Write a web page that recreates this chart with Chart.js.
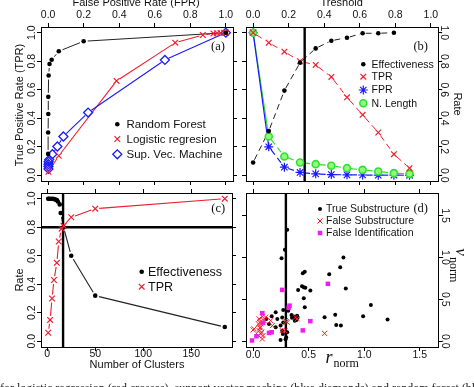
<!DOCTYPE html>
<html>
<head>
<meta charset="utf-8">
<script src="https://cdn.jsdelivr.net/npm/chart.js@4.4.0/dist/chart.umd.min.js"></script>
<style>
  html, body { margin: 0; padding: 0; background: #fff; width: 474px; height: 387px; overflow: hidden; position: relative; }
  canvas { position: absolute; left: 0; top: 0; }
  #cap { position: absolute; left: 0; top: 381px; font: 12px "Liberation Serif", serif; white-space: nowrap; color: #222; }
</style>
</head>
<body>
<canvas id="ca" width="474" height="387"></canvas>
<canvas id="cb" width="474" height="387"></canvas>
<canvas id="cc" width="474" height="387"></canvas>
<canvas id="cd" width="474" height="387"></canvas>
<div id="cap">for logistic regression (red crosses), support vector machine (blue diamonds) and random forest (black dots)</div>
<script>
// ---- (a) ROC curves
const rfFpr  = [1.0, 0.2, 0.06, 0.02, 0.008, 0.003, 0.001, 0.001, 0.0, 0.0];
const rfTpr  = [1.0, 0.94, 0.87, 0.81, 0.78, 0.70, 0.55, 0.43, 0.30, 0.15];
const lrFpr  = [1.0, 0.99, 0.97, 0.95, 0.93, 0.87, 0.715, 0.385, 0.06, 0.002];
const lrTpr  = [1.0, 1.0, 0.998, 0.996, 0.995, 0.984, 0.93, 0.662, 0.137, 0.025];
const svmFpr = [1.0, 0.657, 0.225, 0.086, 0.052, 0.024, 0.006, 0.003, 0.002, 0.002, 0.002];
const svmTpr = [1.0, 0.809, 0.44, 0.272, 0.202, 0.148, 0.11, 0.095, 0.078, 0.062, 0.045];

// ---- (b) rates against threshold
const thresholds = [0, 0.088, 0.176, 0.264, 0.352, 0.44, 0.528, 0.616, 0.704, 0.792, 0.88];
const effB = [0.09, 0.31, 0.594, 0.79, 0.89, 0.944, 0.965, 0.996, 0.996, 1.0];
const tprB = [1.0, 0.93, 0.867, 0.80, 0.774, 0.69, 0.547, 0.424, 0.30, 0.148, 0.05];
const fprB = [1.0, 0.20, 0.057, 0.02, 0.01, 0.005, 0.003, 0.002, 0.001, 0.001, 0.0];
const lenB = [1.0, 0.272, 0.132, 0.09, 0.078, 0.067, 0.05, 0.038, 0.027, 0.015, 0.01];
const thresholdCut = 0.29;

// ---- (c) rates against number of clusters
const clustersEff = [1, 2, 4, 6, 8, 10, 11, 13, 14, 17, 25, 50, 185];
const effC = [1.0, 1.0, 1.0, 1.0, 0.995, 0.99, 0.98, 0.96, 0.90, 0.80, 0.60, 0.32, 0.10];
const clustersTpr = [1, 3, 5, 7, 10, 12, 15, 17, 25, 50, 185];
const tprC = [0.06, 0.15, 0.30, 0.43, 0.55, 0.70, 0.79, 0.81, 0.87, 0.93, 1.0];
const clusterCut = 16.5;
const rateCut = 0.8;

// ---- (d) r_norm / v_norm scatter
const rTrue = [0.307, 0.286, 0.256, 0.813, 0.784, 0.465, 0.447, 0.685, 0.834, 0.44, 0.456, 0.47, 0.405, 0.515, 0.456, 0.465,
  1.06, 0.99, 1.21, 0.739, 0.748, 0.79, 0.643, 0.167, 0.203, 0.218, 0.262, 0.271, 0.316, 0.346, 0.366, 0.381, 0.396, 0.375,
  0.247, 0.262, 0.268, 0.247, 0.298, 0.203, 0.143, 0.271, 0.119, 0.307, 0.292, 0.40, 0.39, 0.35];
const vTrue = [1.33, 1.09, 0.99, 1.0, 0.883, 0.83, 0.81, 0.80, 0.63, 0.656, 0.645, 0.637, 0.613, 0.605, 0.513, 0.406,
  0.434, 0.30, 0.26, 0.315, 0.195, 0.187, 0.287, 0.30, 0.345, 0.265, 0.285, 0.225, 0.365, 0.314, 0.295, 0.266, 0.306, 0.246,
  0.187, 0.127, 0.088, 0.016, 0.048, 0.167, 0.207, 0.374, 0.265, 0.107, 0.023, 0.28, 0.255, 0.28];
const rFalse = [0.0, 0.054, 0.069, 0.06, 0.077, 0.089, 0.048, 0.083, 0.098, 0.113, 0.158, 0.173, 0.262, 0.292, 0.307, 0.381,
  0.396, 0.643, 0.083, 0.048, 0.068, 0.054, 0.068, 0.009, 0.286, 0.298, 0.065];
const vFalse = [0.136, 0.267, 0.207, 0.16, 0.108, 0.068, 0.068, 0.028, 0.247, 0.287, 0.247, 0.187, 0.128, 0.247, 0.227, 0.287,
  0.267, 0.095, 0.294, 0.207, 0.168, 0.128, 0.088, 0.148, 0.127, 0.235, 0.23];
const rFid = [0.262, 0.673, 0.328, 0.083, 0.515, 0.447, 0.167, 0.143, 0.03, -0.01, 0.09, 0.32];
const vFid = [0.613, 0.685, 0.425, 0.335, 0.24, 0.13, 0.108, 0.1, 0.06, 0.01, 0.22, 0.40];
const rNormCut = 0.295;

// ---- tick labels
const unitTicks = [0, 0.2, 0.4, 0.6, 0.8, 1.0];
const clusterTicks = [0, 50, 100, 150];
const normTicks = [0, 0.5, 1.0, 1.5];

const SANS = "'Liberation Sans', Arial, sans-serif";
const SERIF = "'Liberation Serif', 'Times New Roman', serif";
const RED = '#f01e2c';
const BLUE = '#1a1aff';
const GREEN = '#33dd33';
const MAGENTA = '#f01cf0';

const pts = (xs, ys) => ys.map((y, i) => ({ x: xs[i], y: y }));
const f1 = v => Number(v).toFixed(1);
const f0 = v => String(v);

function mkScale(axis, position, min, max, tickVals) {
  return {
    type: 'linear', axis: axis, position: position, min: min, max: max,
    afterBuildTicks: s => { s.ticks = tickVals.map(v => ({ value: v })); },
    afterFit: s => { if (s.isHorizontal()) s.height = 10; else s.width = 10; },
    grid: { drawOnChartArea: false, drawTicks: true, tickLength: 4, color: '#000', lineWidth: 1 },
    border: { display: true, color: '#000', width: 1 },
    ticks: { display: false, autoSkip: false }
  };
}

function baseOptions(box, scales) {
  return {
    responsive: false, animation: false, devicePixelRatio: 1, events: [],
    layout: { autoPadding: false, padding: { left: box.l - 10, top: box.t - 10, right: 474 - box.r - 10, bottom: 387 - box.b - 10 } },
    plugins: { legend: { display: false }, tooltip: { enabled: false } },
    scales: scales
  };
}

// lines between points with a small gap round each point (R type "b")
const gapLines = {
  id: 'gapLines',
  beforeDatasetsDraw(chart) {
    const ctx = chart.ctx, a = chart.chartArea;
    ctx.save();
    ctx.beginPath();
    ctx.rect(a.left, a.top, a.right - a.left, a.bottom - a.top);
    ctx.clip();
    chart.data.datasets.forEach((ds, i) => {
      const g = ds.gapLine;
      if (!g) return;
      const el = chart.getDatasetMeta(i).data;
      ctx.strokeStyle = g.color;
      ctx.lineWidth = g.width;
      for (let k = 0; k < el.length - 1; k++) {
        const p = el[k], q = el[k + 1];
        const dx = q.x - p.x, dy = q.y - p.y, len = Math.hypot(dx, dy);
        const gap = (g.noGapFirst && k === 0) ? 0 : g.gap;
        if (len <= 2 * gap + 1) continue;
        const ux = dx / len, uy = dy / len;
        ctx.setLineDash(g.dash && !(g.solidFirst && k === 0) ? g.dash : []);
        ctx.beginPath();
        ctx.moveTo(p.x + ux * gap, p.y + uy * gap);
        ctx.lineTo(q.x - ux * gap, q.y - uy * gap);
        ctx.stroke();
      }
    });
    ctx.restore();
  }
};

function symbol(ctx, s, x, y) {
  ctx.save();
  ctx.fillStyle = s.fill || 'rgba(0,0,0,0)';
  ctx.strokeStyle = s.stroke || s.fill || '#000';
  ctx.lineWidth = s.bw || 0;
  Chart.helpers.drawPoint(ctx, { pointStyle: s.style, radius: s.r, borderWidth: s.bw || 0, rotation: 0 }, x, y);
  ctx.restore();
}

// tick labels, titles, panel tags and legends
function deco(cfg) {
  return {
    id: 'deco',
    afterDraw(chart) {
      const ctx = chart.ctx;
      ctx.save();
      ctx.fillStyle = '#111';
      ctx.textBaseline = 'middle';
      ctx.textAlign = 'center';
      ctx.font = '10.5px ' + SANS;
      if (cfg.xLabels) {
        const sc = chart.scales[cfg.xLabels.axis];
        cfg.xLabels.vals.forEach(v => ctx.fillText(cfg.xLabels.fmt(v), sc.getPixelForValue(v), cfg.xLabels.y));
      }
      if (cfg.yLabels) {
        const sc = chart.scales[cfg.yLabels.axis];
        cfg.yLabels.vals.forEach(v => {
          ctx.save();
          ctx.translate(cfg.yLabels.x, sc.getPixelForValue(v));
          ctx.rotate(cfg.yLabels.rot);
          ctx.fillText(f1(v), 0, 0);
          ctx.restore();
        });
      }
      (cfg.texts || []).forEach(t => {
        ctx.save();
        ctx.font = (t.italic ? 'italic ' : '') + t.size + 'px ' + (t.serif ? SERIF : SANS);
        ctx.textAlign = t.align || 'center';
        ctx.textBaseline = t.base || 'middle';
        ctx.translate(t.x, t.y);
        if (t.rot) ctx.rotate(t.rot);
        ctx.fillText(t.t, 0, 0);
        ctx.restore();
      });
      (cfg.legend || []).forEach(e => {
        symbol(ctx, e.sym, e.x, e.y);
        ctx.fillStyle = '#111';
        ctx.font = e.size + 'px ' + SANS;
        ctx.textAlign = 'left';
        ctx.textBaseline = 'middle';
        ctx.fillText(e.t, e.tx, e.y + 0.5);
      });
      ctx.restore();
    }
  };
}

const symRF = { style: 'circle', r: 2.3, fill: '#000' };
const symLR = { style: 'crossRot', r: 4, stroke: RED, bw: 1.2 };
const symSVM = { style: 'rectRot', r: 4.5, stroke: BLUE, bw: 1.3 };
const symFPR = { style: 'star', r: 4.5, stroke: BLUE, bw: 1.2 };
const symLen = { style: 'circle', r: 3.5, fill: '#8dff7a', stroke: GREEN, bw: 1.6 };
const symFid = { style: 'rect', r: 3.2, fill: MAGENTA, stroke: MAGENTA, bw: 0 };
const symFalse = { style: 'crossRot', r: 3.6, stroke: RED, bw: 1 };
const symTrue = { style: 'circle', r: 2, fill: '#000' };

function ds(data, s, extra) {
  return Object.assign({
    data: data, pointStyle: s.style, pointRadius: s.r,
    backgroundColor: s.fill || 'rgba(0,0,0,0)', borderColor: s.stroke || s.fill, borderWidth: s.bw || 0
  }, extra || {});
}
function refLine(data) {
  return { data: data, showLine: true, borderColor: '#000', borderWidth: 2.4, pointRadius: 0 };
}

// ---------- panel (a)
const boxA = { l: 41, t: 27, r: 233, b: 181 };
new Chart(document.getElementById('ca'), {
  type: 'scatter',
  data: { datasets: [
    ds(pts(rfFpr, rfTpr), symRF, { gapLine: { color: '#222', width: 1, gap: 4 } }),
    ds(pts(lrFpr, lrTpr), symLR, { gapLine: { color: RED, width: 1.1, gap: 3.5 } }),
    ds(pts(svmFpr, svmTpr), symSVM, { gapLine: { color: BLUE, width: 1.1, gap: 4 } })
  ] },
  options: baseOptions(boxA, {
    x: mkScale('x', 'top', -0.04, 1.04, unitTicks),
    x2: mkScale('x', 'bottom', -0.04, 1.04, unitTicks),
    y: mkScale('y', 'left', -0.04, 1.04, unitTicks),
    y2: mkScale('y', 'right', -0.04, 1.04, unitTicks)
  }),
  plugins: [gapLines, deco({
    xLabels: { axis: 'x', y: 15.5, vals: unitTicks, fmt: f1 },
    yLabels: { axis: 'y', x: 32, rot: -Math.PI / 2, vals: unitTicks },
    texts: [
      { t: 'False Positive Rate (FPR)', x: 136, y: 3, size: 11 },
      { t: 'True Positive Rate (TPR)', x: 20, y: 105, size: 11, rot: -Math.PI / 2 },
      { t: '(a)', x: 218, y: 47, size: 12.5, serif: true }
    ],
    legend: [
      { x: 117.3, y: 124.3, tx: 126.5, t: 'Random Forest', size: 11.5, sym: symRF },
      { x: 117.3, y: 139, tx: 126.5, t: 'Logistic regresion', size: 11.5, sym: symLR },
      { x: 117.3, y: 154.3, tx: 126.5, t: 'Sup. Vec. Machine', size: 11.5, sym: symSVM }
    ]
  })]
});

// ---------- panel (b)
const boxB = { l: 246, t: 27, r: 438, b: 181 };
const dashB = [6, 4];
new Chart(document.getElementById('cb'), {
  type: 'scatter',
  data: { datasets: [
    ds(pts(thresholds, effB), symRF, { gapLine: { color: '#222', width: 1, gap: 3, dash: dashB } }),
    ds(pts(thresholds, tprB), symLR, { gapLine: { color: RED, width: 1, gap: 4, dash: dashB } }),
    ds(pts(thresholds, lenB), symLen, { gapLine: { color: GREEN, width: 1.2, gap: 4, dash: dashB, solidFirst: true, noGapFirst: true } }),
    ds(pts(thresholds, fprB), symFPR, { gapLine: { color: BLUE, width: 1.2, gap: 4, dash: dashB, solidFirst: true, noGapFirst: true } }),
    refLine([{ x: thresholdCut, y: -0.04 }, { x: thresholdCut, y: 1.04 }])
  ] },
  options: baseOptions(boxB, {
    x: mkScale('x', 'top', -0.04, 1.04, unitTicks),
    x2: mkScale('x', 'bottom', -0.04, 1.04, unitTicks),
    y: mkScale('y', 'left', -0.04, 1.04, unitTicks),
    y2: mkScale('y', 'right', -0.04, 1.04, unitTicks)
  }),
  plugins: [gapLines, deco({
    xLabels: { axis: 'x', y: 15.5, vals: unitTicks, fmt: f1 },
    yLabels: { axis: 'y', x: 444, rot: Math.PI / 2, vals: unitTicks },
    texts: [
      { t: 'Treshold', x: 341.7, y: 3, size: 11 },
      { t: 'Rate', x: 457, y: 104, size: 11, rot: Math.PI / 2 },
      { t: '(b)', x: 420.7, y: 46.7, size: 12.5, serif: true }
    ],
    legend: [
      { x: 363.3, y: 64.3, tx: 371.5, t: 'Effectiveness', size: 10.5, sym: symRF },
      { x: 363.3, y: 76.7, tx: 371.5, t: 'TPR', size: 10.5, sym: symLR },
      { x: 363.3, y: 90, tx: 371.5, t: 'FPR', size: 10.5, sym: symFPR },
      { x: 363.3, y: 103.3, tx: 371.5, t: 'N. Length', size: 10.5, sym: symLen }
    ]
  })]
});

// ---------- panel (c)
const boxC = { l: 41, t: 193, r: 232, b: 347 };
new Chart(document.getElementById('cc'), {
  type: 'scatter',
  data: { datasets: [
    ds(pts(clustersTpr, tprC), symLR, { gapLine: { color: RED, width: 1.1, gap: 4 } }),
    ds(pts(clustersEff, effC), symRF, { gapLine: { color: '#222', width: 1.1, gap: 4 } }),
    refLine([{ x: clusterCut, y: -0.04 }, { x: clusterCut, y: 1.04 }]),
    refLine([{ x: -6.5, y: rateCut }, { x: 192.5, y: rateCut }])
  ] },
  options: baseOptions(boxC, {
    x: mkScale('x', 'bottom', -6.5, 192.5, clusterTicks),
    x2: mkScale('x', 'top', -6.5, 192.5, clusterTicks),
    y: mkScale('y', 'left', -0.04, 1.04, unitTicks),
    y2: mkScale('y', 'right', -0.04, 1.04, unitTicks)
  }),
  plugins: [gapLines, deco({
    xLabels: { axis: 'x', y: 354, vals: clusterTicks, fmt: f0 },
    yLabels: { axis: 'y', x: 32, rot: -Math.PI / 2, vals: unitTicks },
    texts: [
      { t: 'Number of Clusters', x: 137, y: 364.5, size: 11 },
      { t: 'Rate', x: 20, y: 280, size: 11, rot: -Math.PI / 2 },
      { t: '(c)', x: 218.3, y: 208.3, size: 12.5, serif: true }
    ],
    legend: [
      { x: 141.7, y: 271.7, tx: 148, t: 'Effectiveness', size: 12.5, sym: symRF },
      { x: 141.7, y: 286.7, tx: 148, t: 'TPR', size: 12.5, sym: symLR }
    ]
  })]
});

// ---------- panel (d)
const boxD = { l: 246, t: 193, r: 438, b: 347 };
new Chart(document.getElementById('cd'), {
  type: 'scatter',
  data: { datasets: [
    ds(pts(rFid, vFid), symFid),
    ds(pts(rFalse, vFalse), symFalse),
    ds(pts(rTrue, vTrue), symTrue),
    refLine([{ x: rNormCut, y: -0.068 }, { x: rNormCut, y: 1.768 }])
  ] },
  options: baseOptions(boxD, {
    x: mkScale('x', 'bottom', -0.064, 1.664, normTicks),
    x2: mkScale('x', 'top', -0.064, 1.664, normTicks),
    y: mkScale('y', 'left', -0.068, 1.768, normTicks),
    y2: mkScale('y', 'right', -0.068, 1.768, normTicks)
  }),
  plugins: [deco({
    xLabels: { axis: 'x', y: 355, vals: normTicks, fmt: f1 },
    yLabels: { axis: 'y', x: 445, rot: Math.PI / 2, vals: normTicks },
    texts: [
      { t: 'r', x: 329, y: 363, size: 18, serif: true, italic: true, base: 'alphabetic' },
      { t: 'norm', x: 333.5, y: 367, size: 12, serif: true, align: 'left', base: 'alphabetic' },
      { t: 'v', x: 460, y: 252, size: 17, serif: true, italic: true, rot: Math.PI / 2 },
      { t: 'norm', x: 453, y: 257, size: 12, serif: true, align: 'left', rot: Math.PI / 2 },
      { t: '(d)', x: 420.7, y: 209, size: 12.5, serif: true }
    ],
    legend: [
      { x: 320, y: 209, tx: 326, t: 'True Substructure', size: 10.5, sym: symTrue },
      { x: 320, y: 221, tx: 326, t: 'False Substructure', size: 10.5, sym: symFalse },
      { x: 320, y: 233, tx: 326, t: 'False Identification', size: 10.5, sym: symFid }
    ]
  })]
});
</script>
</body>
</html>
